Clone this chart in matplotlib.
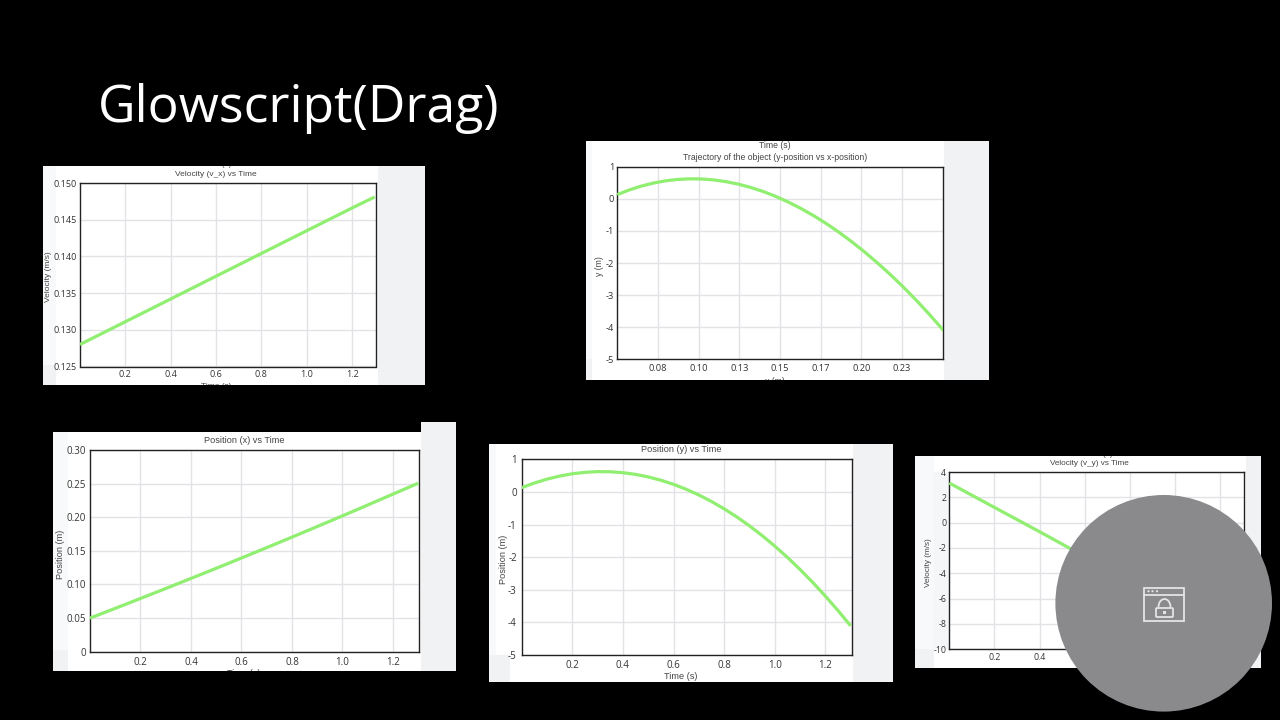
import matplotlib
matplotlib.use("Agg")
import matplotlib.pyplot as plt
from matplotlib.patches import Rectangle, Circle, FancyBboxPatch, Arc

# ---------- data ----------
heading = "Glowscript(Drag)"

time_s = [0.0, 0.05, 0.1, 0.15, 0.2, 0.25, 0.3, 0.35, 0.4, 0.45, 0.5, 0.55, 0.6, 0.65,
          0.7, 0.75, 0.8, 0.85, 0.9, 0.95, 1.0, 1.05, 1.1, 1.15, 1.2, 1.25, 1.3]
pos_x = [0.0500, 0.0572, 0.0645, 0.0718, 0.0792, 0.0866, 0.0940, 0.1015, 0.1090, 0.1165,
         0.1241, 0.1317, 0.1394, 0.1471, 0.1548, 0.1626, 0.1704, 0.1783, 0.1862, 0.1941,
         0.2021, 0.2101, 0.2182, 0.2263, 0.2344, 0.2425, 0.2506]
pos_y = [0.130, 0.273, 0.392, 0.486, 0.556, 0.601, 0.622, 0.618, 0.590, 0.537, 0.460,
         0.358, 0.232, 0.081, -0.094, -0.294, -0.518, -0.767, -1.040, -1.338, -1.660,
         -2.007, -2.378, -2.774, -3.194, -3.639, -4.108]
vx_t = [0.0, 0.2, 0.4, 0.6, 0.8, 1.0, 1.2, 1.3]
vx = [0.1280, 0.1311, 0.1342, 0.1373, 0.1404, 0.1435, 0.1466, 0.1481]
vy_t = [0.0, 0.2, 0.4, 0.6]
vy = [3.13, 1.20, -0.72, -2.68]

x_ticks = [0.2, 0.4, 0.6, 0.8, 1.0, 1.2]
x_ticklabels = ["0.2", "0.4", "0.6", "0.8", "1.0", "1.2"]
traj_x_ticks = [0.075, 0.100, 0.125, 0.150, 0.175, 0.200, 0.225]
traj_x_ticklabels = ["0.08", "0.10", "0.13", "0.15", "0.17", "0.20", "0.23"]
vx_y_ticks = [0.125, 0.130, 0.135, 0.140, 0.145, 0.150]
vx_y_ticklabels = ["0.125", "0.130", "0.135", "0.140", "0.145", "0.150"]
px_y_ticks = [0, 0.05, 0.10, 0.15, 0.20, 0.25, 0.30]
px_y_ticklabels = ["0", "0.05", "0.10", "0.15", "0.20", "0.25", "0.30"]
y_y_ticks = [-5, -4, -3, -2, -1, 0, 1]
y_y_ticklabels = ["-5", "-4", "-3", "-2", "-1", "0", "1"]
vy_y_ticks = [-10, -8, -6, -4, -2, 0, 2, 4]
vy_y_ticklabels = ["-10", "-8", "-6", "-4", "-2", "0", "2", "4"]

# ---------- styles ----------
GREEN = "#90ee70"
GRID = "#e3e3e7"
PALE = "#f0f2f3"
TICK_FONT = "Open Sans"
TEXT_FONT = "Liberation Sans"
TEXT_COL = "#444444"

fig = plt.figure(figsize=(12.8, 7.2), dpi=100, facecolor="black")
bg = fig.add_axes([0, 0, 1, 1], zorder=0)
bg.set_xlim(0, 1280)
bg.set_ylim(720, 0)
bg.axis("off")
bg.add_patch(Rectangle((0, 0), 1280, 720, color="black", zorder=0))
bg.text(98, 108, heading, color="white", fontsize=37.3, family="Open Sans",
        ha="left", va="center")


def box(x0, y0, x1, y1, c, z=1):
    r = Rectangle((x0, y0), x1 - x0, y1 - y0, facecolor=c, edgecolor="none", zorder=z)
    bg.add_patch(r)
    return r


def panel(card, strip_x, left_strip, band_y, axbox, xlim, ylim, xt, xtl, yt, ytl,
          xs, ys, title, title_xy, ylabel, ylabel_xy, xlabel, xlabel_xy, fs, pads,
          extra_top=None):
    x0, y0, x1, y1 = card
    clip = box(x0, y0, x1, y1, "white", 1)
    box(strip_x, y0, x1, y1, PALE, 2)
    box(x0, y0, left_strip, y1, "#f8f9fa", 2)
    box(x0, band_y, left_strip, y1, PALE, 3)
    l, t, r, b = axbox
    ax = fig.add_axes([l / 1280, 1 - b / 720, (r - l) / 1280, (b - t) / 720], zorder=2)
    ax.set_xlim(*xlim)
    ax.set_ylim(*ylim)
    ax.plot(xs, ys, color=GREEN, lw=2.3, solid_capstyle="butt", zorder=3)
    ax.set_xticks(xt, xtl, family=TICK_FONT, fontsize=fs, color="#333333")
    ax.set_yticks(yt, ytl, family=TICK_FONT, fontsize=fs, color="#333333")
    ax.tick_params(axis="x", length=0, pad=pads[0])
    ax.tick_params(axis="y", length=0, pad=pads[1])
    ax.grid(True, color=GRID, lw=1.0)
    ax.set_axisbelow(True)
    for s in ax.spines.values():
        s.set_color("#222222")
        s.set_linewidth(1.0)
    small = fs - 0.45
    ax.set_title(title, family=TEXT_FONT, fontsize=small, color=TEXT_COL, y=1.0)
    ax.title.set_transform(bg.transData)
    ax.title.set_position(title_xy)
    ax.title.set_va("center")
    ax.set_ylabel(ylabel, family=TEXT_FONT, fontsize=small, color=TEXT_COL, va="center")
    ax.yaxis.set_label_coords(ylabel_xy[0], ylabel_xy[1], transform=bg.transData)
    ax.set_xlabel(xlabel, family=TEXT_FONT, fontsize=small, color=TEXT_COL, va="center")
    ax.xaxis.set_label_coords(xlabel_xy[0], xlabel_xy[1], transform=bg.transData)
    ax.xaxis.label.set_clip_on(True)
    ax.xaxis.label.set_clip_path(clip)
    if extra_top:
        tx = bg.text(extra_top[0], extra_top[1], "Time (s)", family=TEXT_FONT,
                     fontsize=small, color=TEXT_COL, ha="center", va="center", zorder=4)
        tx.set_clip_on(True)
        tx.set_clip_path(clip)
    return ax


panel((43, 166, 424.5, 385), 378, 56, 365, (80, 183, 375.7, 366.5), (0, 1.304), (0.125, 0.150),
      x_ticks, x_ticklabels, vx_y_ticks, vx_y_ticklabels, vx_t, vx,
      "Velocity (v_x) vs Time", (216, 175), "Velocity (m/s)", (49, 277),
      "Time (s)", (216, 386.5), 6.5, (2.2, 2.2), extra_top=(216, 164.5))
box(56, 378, 378, 385, "white", 3)

panel((586, 141, 988.5, 380), 944, 592, 359, (617.3, 166.7, 942.7, 359.3), (0.05, 0.25), (-5, 1),
      traj_x_ticks, traj_x_ticklabels, y_y_ticks, y_y_ticklabels, pos_x, pos_y,
      "Trajectory of the object (y-position vs x-position)", (775, 157), "y (m)", (599, 266),
      "x (m)", (775, 381.5), 6.7, (3.5, 2.2), extra_top=(775, 146))
box(592, 373, 944, 380, "white", 3)

panel((53, 432, 421, 671), 421, 68, 650, (90, 450, 419, 651.7), (0, 1.303), (0, 0.30),
      x_ticks, x_ticklabels, px_y_ticks, px_y_ticklabels, time_s, pos_x,
      "Position (x) vs Time", (244, 440.5), "Position (m)", (60.5, 554),
      "Time (s)", (244, 673.5), 7.0, (3.5, 2.8))
box(421, 422, 456, 671, PALE, 2)
box(68, 665, 421, 671, "white", 3)

panel((489.3, 444, 892.7, 681.7), 853, 510, 655, (521.7, 459.3, 851.7, 655), (0, 1.304), (-5, 1),
      x_ticks, x_ticklabels, y_y_ticks, y_y_ticklabels, time_s, pos_y,
      "Position (y) vs Time", (681, 450), "Position (m)", (503, 559),
      "Time (s)", (681, 676.5), 7.0, (3.7, 3.5))
box(510, 668, 853, 681.7, "white", 3)
box(496, 444, 510, 655, "white", 3)

panel((915, 456, 1260.7, 668), 1246, 934, 649, (949.3, 472, 1244, 649.3), (0, 1.304), (-10, 4),
      x_ticks, x_ticklabels, vy_y_ticks, vy_y_ticklabels, vy_t, vy,
      "Velocity (v_y) vs Time", (1089.5, 463.5), "Velocity (m/s)", (928, 562.5),
      "Time (s)", (1098, 672), 6.3, (2.6, 2.2), extra_top=(1098, 454))
box(934, 472, 949.3, 649, "#f5f6f7", 2)

# ---------- screen-recording badge on top ----------
fg = fig.add_axes([0, 0, 1, 1], zorder=5)
fg.set_xlim(0, 1280)
fg.set_ylim(720, 0)
fg.axis("off")
fg.patch.set_alpha(0)
fg.add_patch(Circle((1163.7, 603.3), 108.3, facecolor="#8a898c", edgecolor="none"))
IC = "#e4e4e6"
fg.add_patch(Rectangle((1144, 587.5), 40, 33, fill=False, edgecolor=IC, lw=1.3))
fg.plot([1144, 1184], [594.5, 594.5], color=IC, lw=1.3)
for dx in (1148.5, 1152.5, 1157):
    fg.add_patch(Circle((dx, 591.2), 1.1, facecolor=IC, edgecolor="none"))
fg.add_patch(FancyBboxPatch((1156, 608), 17, 9, boxstyle="round,pad=0,rounding_size=1",
                            fill=False, edgecolor=IC, lw=1.3))
fg.add_patch(Arc((1164.5, 607), 12, 16, theta1=180, theta2=360, edgecolor=IC, lw=1.3))
fg.add_patch(Rectangle((1163.3, 611), 2.4, 3.2, facecolor=IC, edgecolor="none"))

fig.savefig("out.png", dpi=100, facecolor="black")
